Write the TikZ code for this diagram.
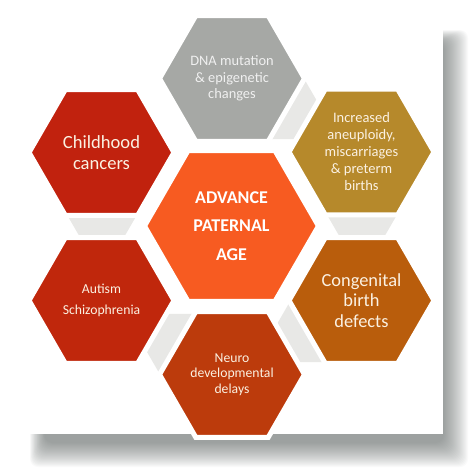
\documentclass[tikz,border=0pt]{standalone}
\usepackage{fontspec}
\setmainfont{Carlito}
\usetikzlibrary{shapes.geometric}
\definecolor{hexorange}{HTML}{F75B21}
\definecolor{hexgray}{HTML}{A6A8A5}
\definecolor{hexgold}{HTML}{B6892B}
\definecolor{hexred}{HTML}{C1220E}
\definecolor{hexcrimson}{HTML}{C0270C}
\definecolor{hexbrown}{HTML}{B95D0C}
\definecolor{hexrust}{HTML}{BC3B0C}
\definecolor{jointgray}{HTML}{E8E8E6}
\definecolor{txtcream}{HTML}{FBF1E2}
\definecolor{shadowgray}{HTML}{3C4442}

\tikzset{
  hexa/.style={regular polygon, regular polygon sides=6, minimum size=145pt, inner sep=0pt, draw=white, line width=5pt},
  bighexa/.style={hexa, minimum size=174pt},
  joint/.style={regular polygon, regular polygon sides=6, minimum size=72pt, inner sep=0pt, fill=jointgray},
  lbl/.style={align=center, text=txtcream, inner sep=0pt}
}

\begin{document}
\begin{tikzpicture}[x=1pt, y=-1pt]
\useasboundingbox (0,0) rectangle (474,474);

% Soft shadow under the frame
\foreach \i in {0,...,24} {
    \fill[shadowgray, opacity=0.028, rounded corners=8pt] (30+0.6*\i, 30+0.5*\i) rectangle (468-\i, 467-\i);
}
% Frame
\fill[white] (18,18) rectangle (443,434);

% Grey joints between neighbouring hexagons
\foreach \x/\y in {285/108, 362/213, 309/331, 179/345, 102/213} {
    \node[joint] at (\x,\y) {};
}

% Outer hexagons
\node[hexa, fill=hexgray, label={[lbl, text=gray!12, font=\fontsize{14.4}{16.7}\selectfont]center:{DNA mutation\\\& epigenetic\\changes}}] (dna) at (232,78.5) {};
\node[hexa, fill=hexgold, label={[lbl, font=\fontsize{14.5}{17}\selectfont]center:{Increased\\aneuploidy,\\miscarriages\\\& preterm\\births}}] (aneu) at (361.5,152) {};
\node[hexa, fill=hexred, label={[lbl, font=\fontsize{18.6}{21.7}\selectfont]center:{Childhood\\cancers}}] (child) at (101.5,152.5) {};
\node[hexa, fill=hexcrimson, label={[lbl, font=\fontsize{13.7}{21.7}\selectfont]center:{Autism\\Schizophrenia}}] (autism) at (101.5,300.5) {};
\node[hexa, fill=hexbrown, label={[lbl, font=\fontsize{18.4}{20.5}\selectfont]center:{Congenital\\birth\\defects}}] (congen) at (361.5,300.5) {};
\node[hexa, fill=hexrust, label={[lbl, font=\fontsize{13.7}{15.6}\selectfont]center:{Neuro\\developmental\\delays}}] (neuro) at (232,374.5) {};

% Centre hexagon
\node[bighexa, fill=hexorange, label={[lbl, text=white, font=\fontsize{18}{28.3}\selectfont\bfseries]center:{ADVANCE\\PATERNAL\\AGE}}] (age) at (231.5,226) {};

\end{tikzpicture}
\end{document}
